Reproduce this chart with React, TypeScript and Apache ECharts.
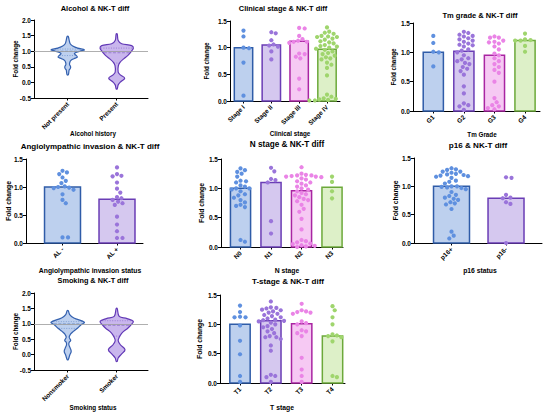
import React, { useEffect, useRef } from "react";
import * as echarts from "echarts";

const FONT = "'Liberation Sans', Arial, Helvetica, sans-serif";

// ---------- DATA ----------
// Violin panels: [value, relative density (1 = widest)]
const alcoholCategories = ["Not present", "Present"];
const notPresentProfile: [number, number][] = [
  [1.48, 0.03], [1.35, 0.09], [1.24, 0.15], [1.17, 0.3], [1.1, 0.6], [1.044, 1.0], [1.0, 0.74],
  [0.95, 0.46], [0.916, 0.4], [0.86, 0.52], [0.81, 0.58], [0.76, 0.37], [0.7, 0.18], [0.63, 0.12],
  [0.574, 0.11], [0.53, 0.15], [0.49, 0.18], [0.44, 0.15], [0.4, 0.09], [0.3, 0.06], [0.24, 0.03],
];
const presentProfile: [number, number][] = [
  [1.556, 0.03], [1.34, 0.09], [1.24, 0.3], [1.18, 0.9], [1.097, 1.0], [0.99, 0.87], [0.86, 0.66],
  [0.755, 0.42], [0.65, 0.21], [0.54, 0.1], [0.33, 0.09], [0.24, 0.22], [0.135, 0.48], [0.03, 0.26],
  [-0.08, 0.09], [-0.21, 0.03],
];
const alcoholQuartiles = [[0.86, 1.0, 1.07], [0.62, 0.95, 1.1]];

const smokingCategories = ["Nonsmoker", "Smoker"];
const nonsmokerProfile: [number, number][] = [
  [1.43, 0.03], [1.3, 0.12], [1.19, 0.37], [1.05, 1.0], [0.97, 0.8], [0.864, 0.6], [0.755, 0.34],
  [0.67, 0.18], [0.56, 0.09], [0.46, 0.18], [0.4, 0.09], [0.32, 0.07], [0.21, 0.15], [0.106, 0.21],
  [-0.02, 0.12], [-0.165, 0.03],
];
const smokerProfile: [number, number][] = [
  [1.5, 0.03], [1.24, 0.15], [1.17, 0.62], [1.08, 1.0], [0.97, 0.87], [0.864, 0.68], [0.7, 0.31],
  [0.56, 0.15], [0.45, 0.09], [0.32, 0.22], [0.16, 0.5], [0.0, 0.26], [-0.11, 0.09], [-0.22, 0.03],
];
const smokingQuartiles = [[0.85, 1.0, 1.07], [0.6, 0.95, 1.1]];

// Bar panels
const clinicalCategories = ["Stage I", "Stage II", "Stage III", "Stage IV"];
const clinicalMeans = [1.0, 1.05, 1.12, 0.97];
const clinicalPoints = [
  [1.32, 1.21, 1.0, 0.99, 0.72, 0.1],
  [1.29, 1.27, 1.14, 1.06, 1.04, 1.02, 0.93, 0.78],
  [1.37, 1.36, 1.22, 1.16, 1.13, 1.11, 1.11, 1.09, 0.89, 0.88, 0.83, 0.8, 0.42, 0.22],
  [1.38, 1.3, 1.28, 1.26, 1.22, 1.21, 1.2, 1.2, 1.19, 1.17, 1.15, 1.12, 1.1, 1.08, 1.05, 1.03, 1.02,
    1.0, 0.98, 0.96, 0.93, 0.9, 0.88, 0.85, 0.82, 0.8, 0.78, 0.72, 0.68, 0.62, 0.48, 0.12, 0.08, 0.05,
    0.04, 0.03, 0.02, 0.02, 0.01, 0.01, 0.0, 0.0],
];

const gradeCategories = ["G1", "G2", "G3", "G4"];
const gradeMeans = [1.0, 1.02, 0.95, 1.2];
const gradePoints = [
  [1.28, 1.16, 1.01, 1.0, 0.76],
  [1.35, 1.33, 1.3, 1.28, 1.27, 1.24, 1.22, 1.2, 1.18, 1.15, 1.13, 1.12, 1.1, 1.05, 1.03, 1.0, 0.95,
    0.9, 0.88, 0.85, 0.82, 0.8, 0.75, 0.72, 0.68, 0.62, 0.42, 0.3, 0.13, 0.1, 0.08, 0.02],
  [1.27, 1.25, 1.25, 1.2, 1.18, 1.17, 1.15, 1.1, 1.05, 0.98, 0.95, 0.9, 0.85, 0.8, 0.75, 0.7, 0.65,
    0.5, 0.22, 0.15, 0.1, 0.08, 0.05, 0.03],
  [1.32, 1.22, 1.21, 1.2, 1.2, 1.11, 1.01],
];

const alCategories = ["AL -", "AL +"];
const alMeans = [1.0, 0.78];
const alPoints = [
  [1.29, 1.26, 1.23, 1.17, 1.11, 1.07, 1.01, 1.0, 0.99, 0.98, 0.95, 0.87, 0.77, 0.71, 0.1, 0.1],
  [1.35, 1.23, 1.2, 1.19, 1.08, 0.97, 0.9, 0.82, 0.8, 0.77, 0.74, 0.71, 0.68, 0.47, 0.33, 0.21, 0.09, 0.09],
];

const nCategories = ["N0", "N1", "N2", "N3"];
const nMeans = [1.0, 1.1, 0.96, 1.02];
const nPoints = [
  [1.34, 1.31, 1.28, 1.25, 1.2, 1.13, 1.12, 1.1, 1.05, 1.03, 1.0, 1.0, 0.98, 0.95, 0.9, 0.88, 0.84,
    0.8, 0.76, 0.72, 0.7, 0.68, 0.12, 0.09],
  [1.35, 1.29, 1.16, 1.14, 1.1, 0.44, 0.23],
  [1.36, 1.25, 1.23, 1.22, 1.22, 1.21, 1.2, 1.2, 1.19, 1.17, 1.15, 1.12, 1.1, 1.08, 1.05, 1.03, 1.0,
    0.98, 0.95, 0.92, 0.9, 0.88, 0.85, 0.82, 0.8, 0.78, 0.72, 0.65, 0.6, 0.48, 0.3, 0.12, 0.1, 0.08,
    0.06, 0.05, 0.03, 0.02, 0.01, 0.0],
  [1.2, 1.11, 0.95, 0.83],
];

const p16Categories = ["p16+", "p16-"];
const p16Means = [1.0, 0.79];
const p16Points = [
  [1.32, 1.3, 1.29, 1.26, 1.26, 1.24, 1.22, 1.21, 1.2, 1.19, 1.18, 1.17, 1.15, 1.1, 1.08, 1.05, 1.0,
    1.0, 0.99, 0.98, 0.97, 0.95, 0.9, 0.85, 0.83, 0.8, 0.78, 0.76, 0.72, 0.7, 0.68, 0.6, 0.2, 0.13, 0.08],
  [1.16, 1.15, 0.85, 0.8, 0.79, 0.72, 0.69, 0.0],
];

const tCategories = ["T1", "T2", "T3", "T4"];
const tMeans = [1.0, 1.06, 1.01, 0.8];
const tPoints = [
  [1.32, 1.21, 1.13, 1.12, 1.12, 0.98, 0.72, 0.49, 0.12, 0.02],
  [1.39, 1.29, 1.28, 1.27, 1.25, 1.24, 1.22, 1.2, 1.18, 1.16, 1.14, 1.12, 1.1, 1.08, 1.07, 1.06, 1.05,
    1.03, 1.0, 0.97, 0.95, 0.92, 0.88, 0.85, 0.8, 0.78, 0.78, 0.75, 0.64, 0.55, 0.14, 0.12, 0.1, 0.02],
  [1.35, 1.24, 1.22, 1.21, 1.2, 1.18, 1.05, 1.02, 1.0, 0.9, 0.88, 0.85, 0.8, 0.43, 0.23, 0.12, 0.02],
  [1.31, 1.24, 1.12, 1.0, 0.83, 0.81, 0.8, 0.78, 0.71, 0.12, 0.1],
];

const referenceValue = 1.0;

// ---------- STYLES / LAYOUT ----------
const PALETTE = [
  { fill: "#bdd0ee", stroke: "#2f5ca8", dot: "#5f90df" },
  { fill: "#d5c8ef", stroke: "#6a3db5", dot: "#9a74da" },
  { fill: "#f6c9f3", stroke: "#a925a2", dot: "#ea84e6" },
  { fill: "#ddf0c8", stroke: "#6ca93a", dot: "#9fd56d" },
];
const VIOLIN_COLORS = [
  { fill: "#b9cdee", stroke: "#2b5aab" },
  { fill: "#c6b2ec", stroke: "#5b2fb2" },
];
const BAR_HALF = 0.33;
const VIOLIN_HALF = 0.34;
const DOT = 4.2;

type Panel = {
  kind: "bar" | "violin";
  title: string; tx: number; ty: number; ts: number;
  xName: string; nx: number; ny: number; ns: number;
  yNameX: number;
  left: number; top: number; width: number; height: number;
  xMin: number; xMax: number; yMin: number; yMax: number;
  categories: string[];
  means?: number[]; points?: number[][];
  profiles?: [number, number][][]; quartiles?: number[][];
};

const panels: Panel[] = [
  { kind: "violin", title: "Alcohol & NK-T diff", tx: 95, ty: 8, ts: 7.5, xName: "Alcohol history", nx: 93, ny: 133, ns: 6.3, yNameX: 15,
    left: 34, top: 20, width: 114, height: 78, xMin: 0.312, xMax: 2.639, yMin: -0.5, yMax: 2.0,
    categories: alcoholCategories, profiles: [notPresentProfile, presentProfile], quartiles: alcoholQuartiles },
  { kind: "bar", title: "Clinical stage & NK-T diff", tx: 283, ty: 8, ts: 7.4, xName: "Clinical stage", nx: 290, ny: 133, ns: 6.3, yNameX: 206,
    left: 230, top: 21, width: 110, height: 80, xMin: 0.515, xMax: 4.467, yMin: 0, yMax: 1.5,
    categories: clinicalCategories, means: clinicalMeans, points: clinicalPoints },
  { kind: "bar", title: "Tm grade & NK-T diff", tx: 480, ty: 15, ts: 7.5, xName: "Tm Grade", nx: 482, ny: 134, ns: 6.3, yNameX: 393,
    left: 413, top: 23, width: 127, height: 88, xMin: 0.336, xMax: 4.49, yMin: 0, yMax: 1.5,
    categories: gradeCategories, means: gradeMeans, points: gradePoints },
  { kind: "bar", title: "Angiolympathic invasion & NK-T diff", tx: 90, ty: 146, ts: 8, xName: "Angiolympathic invasion status", nx: 90, ny: 270, ns: 6.8, yNameX: 8,
    left: 26, top: 159, width: 117, height: 84, xMin: 0.33, xMax: 2.477, yMin: 0, yMax: 1.5,
    categories: alCategories, means: alMeans, points: alPoints },
  { kind: "bar", title: "N stage & NK-T diff", tx: 287, ty: 144, ts: 8.2, xName: "N stage", nx: 287, ny: 270, ns: 6.8, yNameX: 201,
    left: 221, top: 159, width: 122, height: 88, xMin: 0.36, xMax: 4.36, yMin: 0, yMax: 1.5,
    categories: nCategories, means: nMeans, points: nPoints },
  { kind: "bar", title: "p16 & NK-T diff", tx: 478, ty: 145, ts: 8.1, xName: "p16 status", nx: 480, ny: 270, ns: 6.8, yNameX: 395,
    left: 414, top: 158, width: 128, height: 85, xMin: 0.312, xMax: 2.66, yMin: 0, yMax: 1.5,
    categories: p16Categories, means: p16Means, points: p16Points },
  { kind: "violin", title: "Smoking & NK-T diff", tx: 93, ty: 280, ts: 7.3, xName: "Smoking status", nx: 93, ny: 407, ns: 6.3, yNameX: 15,
    left: 34, top: 293, width: 114, height: 77, xMin: 0.312, xMax: 2.639, yMin: -0.5, yMax: 2.0,
    categories: smokingCategories, profiles: [nonsmokerProfile, smokerProfile], quartiles: smokingQuartiles },
  { kind: "bar", title: "T-stage & NK-T diff", tx: 288, ty: 281, ts: 8, xName: "T stage", nx: 282, ny: 407, ns: 6.8, yNameX: 199,
    left: 220, top: 295, width: 125, height: 88, xMin: 0.351, xMax: 4.405, yMin: 0, yMax: 1.5,
    categories: tCategories, means: tMeans, points: tPoints },
];

// Beeswarm placement of dots (horizontal spread only; values untouched)
function swarm(values: number[], center: number, pxX: number, pxY: number): [number, number][] {
  const sorted = [...values].sort((a, b) => b - a);
  const placed: [number, number][] = [];
  const out: [number, number][] = [];
  const step = 1.1;
  for (const v of sorted) {
    const py = v * pxY;
    let chosen = 0;
    for (let k = 0; k < 80; k++) {
      const off = k === 0 ? 0 : (k % 2 === 1 ? 1 : -1) * Math.ceil(k / 2) * step;
      let ok = true;
      for (const [qx, qy] of placed) {
        const dx = off - qx, dy = py - qy;
        if (dx * dx + dy * dy < (DOT + 0.3) * (DOT + 0.3)) { ok = false; break; }
      }
      if (ok) { chosen = off; break; }
    }
    placed.push([chosen, py]);
    out.push([center + chosen / pxX, v]);
  }
  return out;
}

function interpWidth(profile: [number, number][], y: number): number {
  for (let i = 0; i < profile.length - 1; i++) {
    const [y1, d1] = profile[i];
    const [y2, d2] = profile[i + 1];
    if (y <= y1 && y >= y2) {
      const t = (y1 - y) / (y1 - y2 || 1);
      return d1 + (d2 - d1) * t;
    }
  }
  return 0;
}

function buildOption() {
  const grid: any[] = [], xAxis: any[] = [], yAxis: any[] = [], series: any[] = [], graphic: any[] = [];
  const axisLine = { show: true, onZero: false, lineStyle: { color: "#000", width: 1 } };
  const tick = { show: true, length: 3, inside: false, lineStyle: { color: "#000", width: 1 } };

  panels.forEach((p, i) => {
    const catValues = p.categories.map((_, k) => k + 1);
    grid.push({ left: p.left, top: p.top, width: p.width, height: p.height, containLabel: false });
    xAxis.push({
      type: "value", gridIndex: i, min: p.xMin, max: p.xMax,
      axisLine, splitLine: { show: false },
      axisTick: { ...tick, length: 2.5, customValues: catValues },
      axisLabel: {
        customValues: catValues, rotate: 45, margin: 5,
        formatter: (v: number) => p.categories[Math.round(v) - 1] ?? "",
        fontSize: 6.4, fontWeight: "bold", fontFamily: FONT, color: "#000",
      },
    });
    yAxis.push({
      type: "value", gridIndex: i, min: p.yMin, max: p.yMax, interval: 0.5,
      axisLine, axisTick: tick, splitLine: { show: false },
      axisLabel: {
        margin: 3, fontSize: 6.5, fontWeight: "bold", fontFamily: FONT, color: "#000",
        formatter: (v: number) => v.toFixed(1),
      },
    });

    const pxX = p.width / (p.xMax - p.xMin);
    const pxY = p.height / (p.yMax - p.yMin);

    if (p.kind === "bar" && p.means && p.points) {
      series.push({
        type: "custom", xAxisIndex: i, yAxisIndex: i, z: 2,
        data: p.means.map((m, k) => [k + 1, m]),
        renderItem: (params: any, api: any) => {
          const x = api.value(0), v = api.value(1);
          const a = api.coord([x - BAR_HALF, v]);
          const b = api.coord([x + BAR_HALF, p.yMin]);
          const c = PALETTE[params.dataIndex];
          return {
            type: "rect",
            shape: { x: a[0], y: a[1], width: b[0] - a[0], height: b[1] - a[1] },
            style: { fill: c.fill, stroke: c.stroke, lineWidth: 1.5 },
          };
        },
      });
      p.points.forEach((vals, k) => {
        series.push({
          type: "scatter", xAxisIndex: i, yAxisIndex: i, z: 3,
          symbol: "circle", symbolSize: DOT,
          itemStyle: { color: PALETTE[k].dot, opacity: 1 },
          data: swarm(vals, k + 1, pxX, pxY),
        });
      });
    } else if (p.kind === "violin" && p.profiles) {
      const profiles = p.profiles;
      const quart = p.quartiles || [];
      series.push({
        type: "custom", xAxisIndex: i, yAxisIndex: i, z: 2,
        data: profiles.map((_, k) => [k + 1, referenceValue]),
        markLine: {
          silent: true, symbol: "none", label: { show: false },
          lineStyle: { color: "#9a9a9a", width: 0.8, type: "solid" },
          data: [{ yAxis: referenceValue }],
        },
        renderItem: (params: any, api: any) => {
          const k = params.dataIndex;
          const prof = profiles[k];
          const cx = api.value(0);
          const right = prof.map(([y, d]) => api.coord([cx + d * VIOLIN_HALF, y]));
          const left = [...prof].reverse().map(([y, d]) => api.coord([cx - d * VIOLIN_HALF, y]));
          const c = VIOLIN_COLORS[k];
          const children: any[] = [{
            type: "polygon",
            shape: { points: [...right, ...left], smooth: 0.35 },
            style: { fill: c.fill, stroke: c.stroke, lineWidth: 1.2, opacity: 0.95 },
          }];
          (quart[k] || []).forEach((q, qi) => {
            const w = interpWidth(prof, q) * VIOLIN_HALF * 0.95;
            const a = api.coord([cx - w, q]);
            const b = api.coord([cx + w, q]);
            children.push({
              type: "line",
              shape: { x1: a[0], y1: a[1], x2: b[0], y2: b[1] },
              style: { stroke: c.stroke, lineWidth: 0.6, lineDash: qi === 1 ? [3, 1.5] : [1, 1.5], opacity: 0.7 },
            });
          });
          return { type: "group", children };
        },
      });
    }

    const txt = (text: string, x: number, y: number, size: number, rotation = 0) => ({
      type: "text", x, y, rotation, silent: true,
      style: { text, fontSize: size, fontWeight: "bold", fontFamily: FONT, fill: "#000", align: "center", verticalAlign: "middle" },
    });
    graphic.push(txt(p.title, p.tx, p.ty, p.ts));
    graphic.push(txt(p.xName, p.nx, p.ny, p.ns));
    graphic.push(txt("Fold change", p.yNameX, p.top + p.height / 2, p.ns, Math.PI / 2));
  });

  return { animation: false, backgroundColor: "#ffffff", grid, xAxis, yAxis, series, graphic };
}

export default function App() {
  const ref = useRef<HTMLDivElement>(null);
  useEffect(() => {
    if (!ref.current) return;
    const chart = echarts.init(ref.current, undefined, { renderer: "svg", width: 550, height: 414 });
    chart.setOption(buildOption() as any);
    return () => chart.dispose();
  }, []);
  return (
    <div
      ref={ref}
      style={{ position: "fixed", left: 0, top: 0, width: 550, height: 414, background: "#fff" }}
    />
  );
}
